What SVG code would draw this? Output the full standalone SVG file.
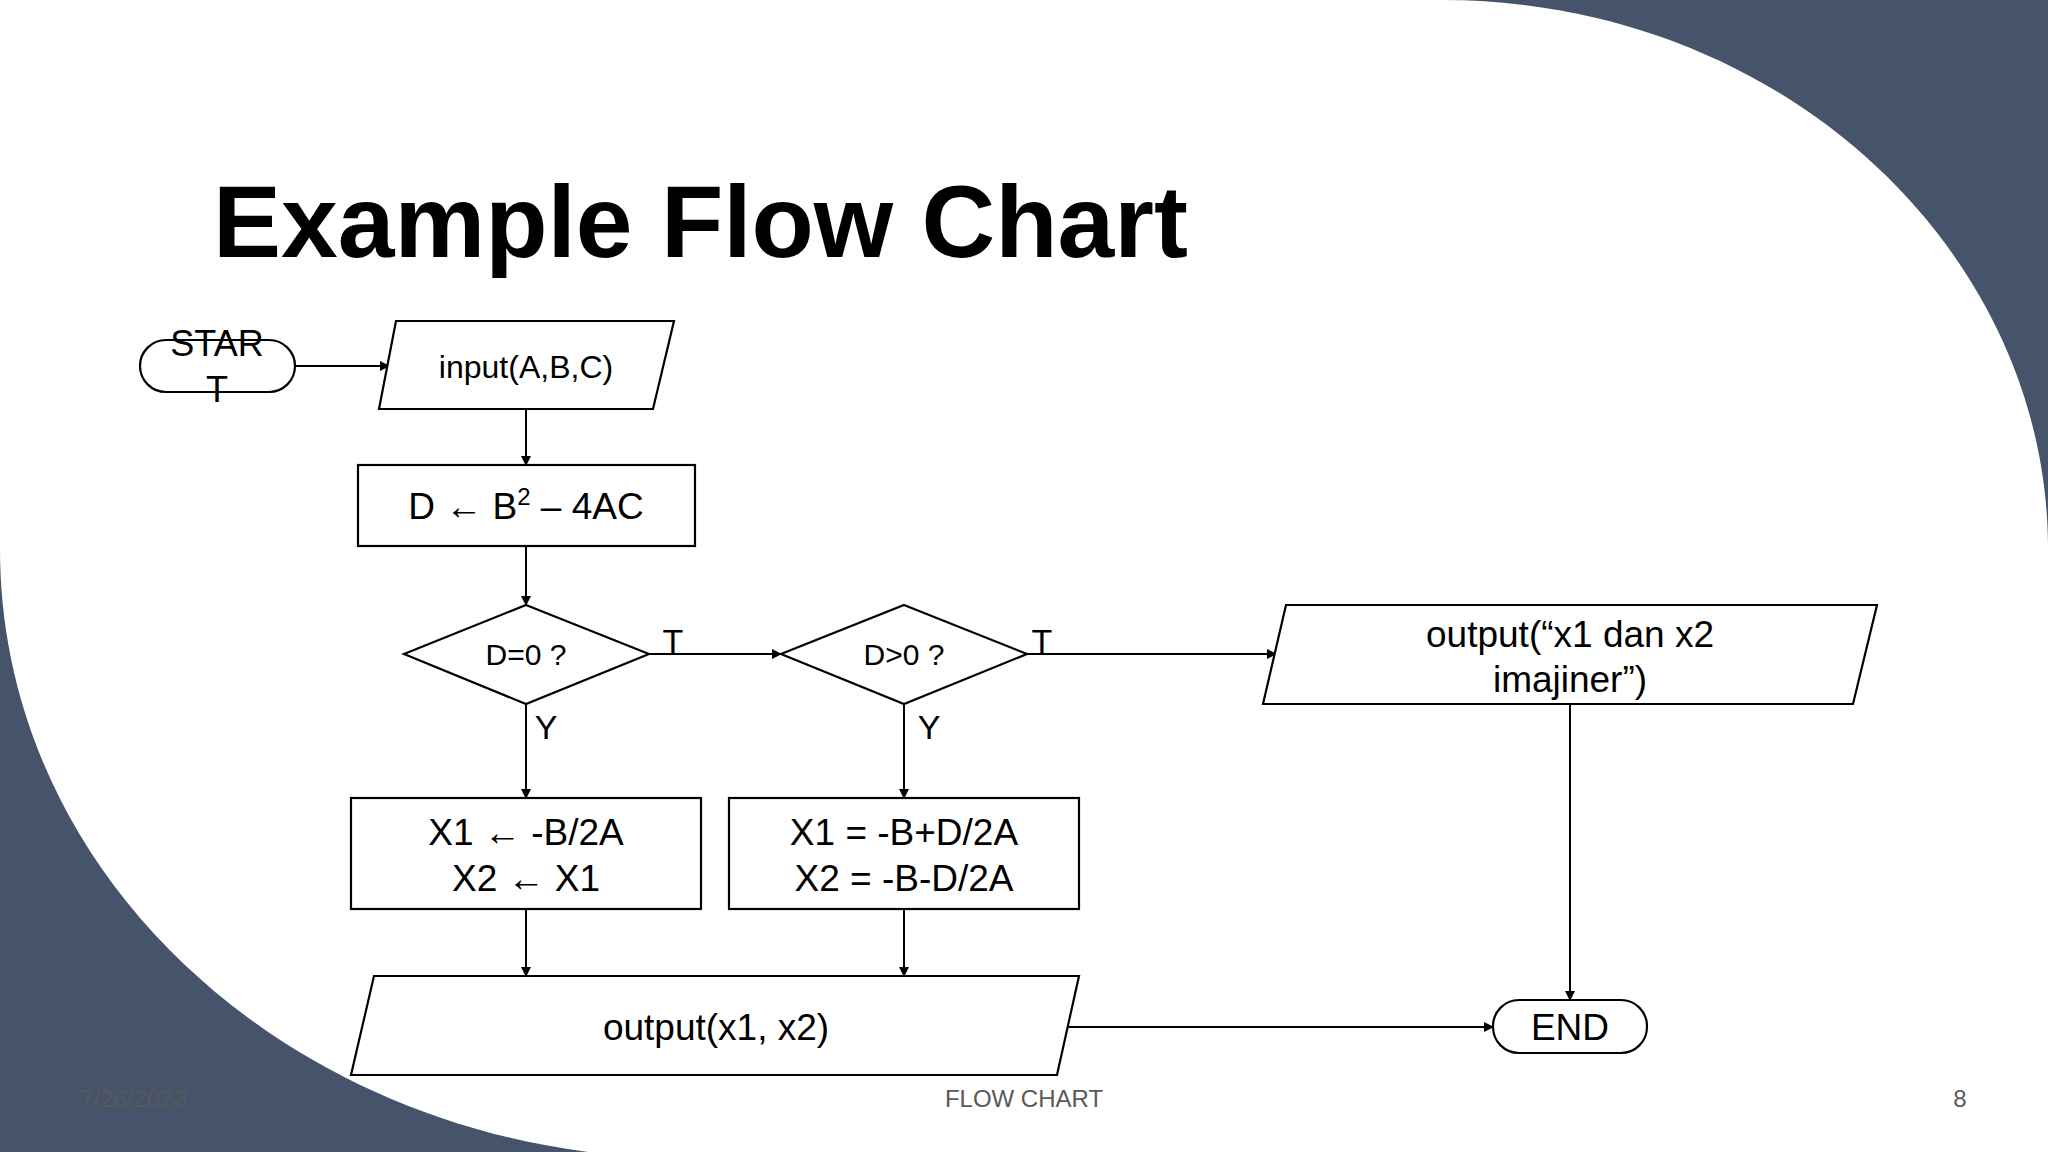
<svg xmlns="http://www.w3.org/2000/svg" width="2048" height="1152" viewBox="0 0 2048 1152">
<style>
.s{fill:#fff;stroke:#000;stroke-width:2.2}
.t{font-family:"Liberation Sans",Arial,sans-serif;fill:#000;text-anchor:middle}
.c line{stroke:#000;stroke-width:2}
.f{font-family:"Liberation Sans",Arial,sans-serif;fill:#595959;font-size:24px}
</style>
<defs><marker id="a" markerWidth="10" markerHeight="10" refX="9" refY="5" orient="auto" markerUnits="userSpaceOnUse"><path d="M0,0 L10,5 L0,10 Z" fill="#000"/></marker></defs>
<rect width="2048" height="1152" fill="#45546a"/>
<path d="M0,0 L1443,0 C1780,0 2048,250 2048,549 L2048,1152 L588,1152 C260,1110 0,860 0,549 Z" fill="#fff"/>
<text x="213" y="257" font-family="Liberation Sans,Arial,sans-serif" font-weight="bold" font-size="102">Example Flow Chart</text>
<g class="c">
<line x1="295" y1="366" x2="389" y2="366" marker-end="url(#a)"/>
<line x1="526" y1="409" x2="526" y2="465" marker-end="url(#a)"/>
<line x1="526" y1="546" x2="526" y2="605" marker-end="url(#a)"/>
<line x1="649" y1="654" x2="781" y2="654" marker-end="url(#a)"/>
<line x1="1027" y1="654" x2="1276" y2="654" marker-end="url(#a)"/>
<line x1="526" y1="704" x2="526" y2="798" marker-end="url(#a)"/>
<line x1="904" y1="704" x2="904" y2="798" marker-end="url(#a)"/>
<line x1="526" y1="909" x2="526" y2="976" marker-end="url(#a)"/>
<line x1="904" y1="909" x2="904" y2="976" marker-end="url(#a)"/>
<line x1="1067" y1="1027" x2="1493" y2="1027" marker-end="url(#a)"/>
<line x1="1570" y1="704" x2="1570" y2="1000" marker-end="url(#a)"/>
<text class="t" x="673" y="653" font-size="34">T</text>
<text class="t" x="1042" y="653" font-size="34">T</text>
<text class="t" x="546" y="739" font-size="34">Y</text>
<text class="t" x="929" y="739" font-size="34">Y</text>
</g>
<g id="start"><rect class="s" x="140" y="340" width="155" height="52" rx="26"/><text class="t" x="217" y="356" font-size="36">STAR</text><text class="t" x="217" y="402" font-size="36">T</text></g>
<g id="input"><path class="s" d="M396,321 L674,321 L653,409 L379,409 Z"/><text class="t" x="526" y="378" font-size="32">input(A,B,C)</text></g>
<g id="calcD"><rect class="s" x="358" y="465" width="337" height="81"/><text class="t" x="526" y="519" font-size="37">D ← B<tspan font-size="24" dy="-14">2</tspan><tspan dy="14"> – 4AC</tspan></text></g>
<g id="d1"><path class="s" d="M526,605 L649,654 L526,704 L404,654 Z"/><text class="t" x="526" y="665" font-size="30">D=0 ?</text></g>
<g id="d2"><path class="s" d="M904,605 L1027,654 L904,704 L781,654 Z"/><text class="t" x="904" y="665" font-size="30">D&gt;0 ?</text></g>
<g id="imag"><path class="s" d="M1286,605 L1877,605 L1853,704 L1263,704 Z"/><text class="t" x="1570" y="647" font-size="37">output(“x1 dan x2</text><text class="t" x="1570" y="692" font-size="37">imajiner”)</text></g>
<g id="b1"><rect class="s" x="351" y="798" width="350" height="111"/><text class="t" x="526" y="845" font-size="37">X1 ← -B/2A</text><text class="t" x="526" y="891" font-size="37">X2 ← X1</text></g>
<g id="b2"><rect class="s" x="729" y="798" width="350" height="111"/><text class="t" x="904" y="845" font-size="37">X1 = -B+D/2A</text><text class="t" x="904" y="891" font-size="37">X2 = -B-D/2A</text></g>
<g id="out"><path class="s" d="M374,976 L1079,976 L1057,1075 L351,1075 Z"/><text class="t" x="716" y="1040" font-size="37">output(x1, x2)</text></g>
<g id="end"><rect class="s" x="1493" y="1000" width="154" height="53" rx="26"/><text class="t" x="1570" y="1040" font-size="37">END</text></g>
<text class="f" x="80" y="1107">7/26/2023</text>
<text class="f" x="1024" y="1107" text-anchor="middle">FLOW CHART</text>
<text class="f" x="1960" y="1107" text-anchor="middle">8</text>
</svg>
